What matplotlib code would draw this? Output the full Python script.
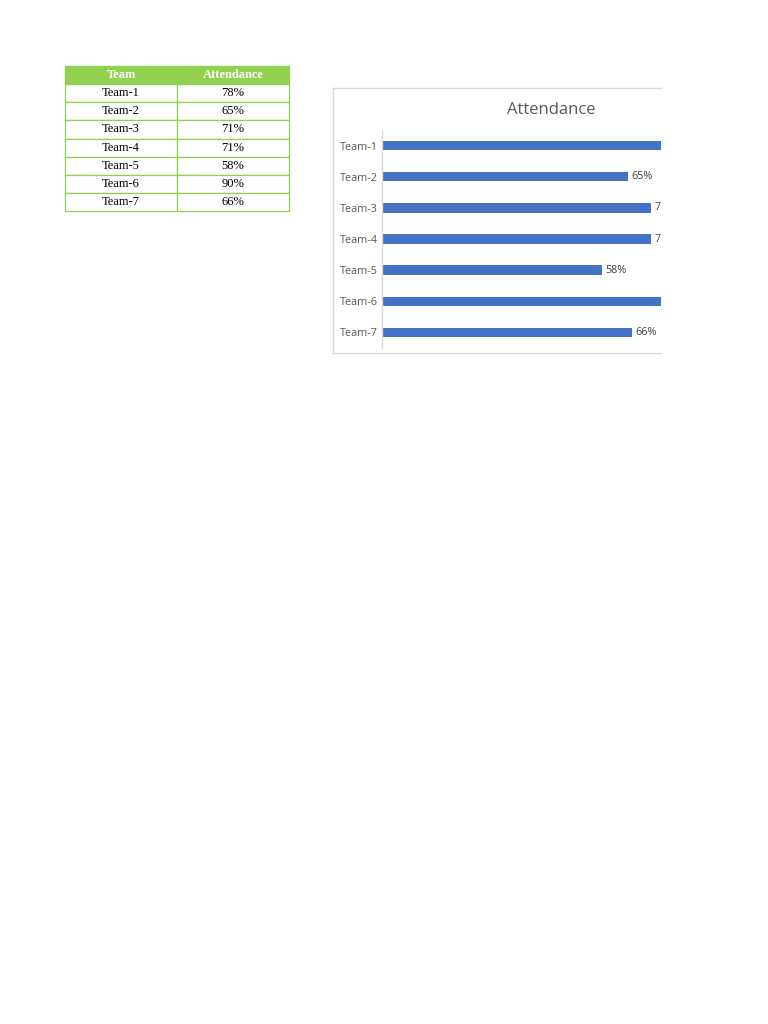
import matplotlib.pyplot as plt
from matplotlib.patches import Rectangle

# data
teams = ['Team-1', 'Team-2', 'Team-3', 'Team-4', 'Team-5', 'Team-6', 'Team-7']
attendance = [78, 65, 71, 71, 58, 90, 66]
headers = ['Team', 'Attendance']

W, H = 768, 1024
fig = plt.figure(figsize=(7.68, 10.24), dpi=100)

# background axes in pixel coords for table + chart frame
bg = fig.add_axes([0, 0, 1, 1])
bg.set_xlim(0, W)
bg.set_ylim(H, 0)
bg.axis('off')

# table
green = '#92D050'
col_x = [65, 177, 289]
row_top = 66
head_h = 18
row_h = 18.2
serif = ['Liberation Serif', 'DejaVu Serif']

bg.add_patch(Rectangle((col_x[0], row_top), col_x[2] - col_x[0], head_h,
                       facecolor=green, edgecolor=green, lw=1))
for j, h in enumerate(headers):
    bg.text((col_x[j] + col_x[j + 1]) / 2, row_top + head_h / 2, h,
            ha='center', va='center', color='white', fontweight='bold',
            fontsize=9, family=serif)

for i, (t, v) in enumerate(zip(teams, attendance)):
    y0 = row_top + head_h + i * row_h
    for j, txt in enumerate([t, f'{v}%']):
        bg.add_patch(Rectangle((col_x[j], y0), col_x[j + 1] - col_x[j], row_h,
                               facecolor='white', edgecolor=green, lw=0.9))
        bg.text((col_x[j] + col_x[j + 1]) / 2, y0 + row_h / 2, txt,
                ha='center', va='center', color='black', fontsize=9, family=serif)

# chart frame (cut off at the right side)
frame_c = '#d9d9d9'
bg.plot([333, 661], [88, 88], color=frame_c, lw=1)
bg.plot([333, 333], [88, 353], color=frame_c, lw=1)
bg.plot([333, 661], [353, 353], color=frame_c, lw=1)
bg.text(551, 110, 'Attendance', ha='center', va='center', color='#595959',
        fontsize=12, family=['Open Sans', 'DejaVu Sans'])

# bar chart
x0, x1, y0, y1 = 382, 661, 130, 348
ax = fig.add_axes([x0 / W, 1 - y1 / H, (x1 - x0) / W, (y1 - y0) / H])
pos = list(range(len(teams)))
ax.barh(pos, attendance, height=0.3, color='#4472C4')
ax.set_xlim(0, (x1 - x0) / 3.785)
ax.set_ylim(len(teams) - 0.5, -0.5)
ax.set_yticks(pos)
ax.set_yticklabels(teams, fontsize=7.8, color='#595959',
                   family=['Open Sans', 'DejaVu Sans'])
ax.tick_params(axis='y', length=0, pad=3)
ax.set_xticks([])
for s in ['top', 'right', 'bottom']:
    ax.spines[s].set_visible(False)
ax.spines['left'].set_color(frame_c)
ax.spines['left'].set_linewidth(1)
ax.patch.set_alpha(0)

for i, v in enumerate(attendance):
    ax.text(v + 1.0, i, f'{v}%', va='center', ha='left', fontsize=7.8,
            color='#404040', family=['Open Sans', 'DejaVu Sans'], clip_on=True)

fig.savefig('out.png', dpi=100)
